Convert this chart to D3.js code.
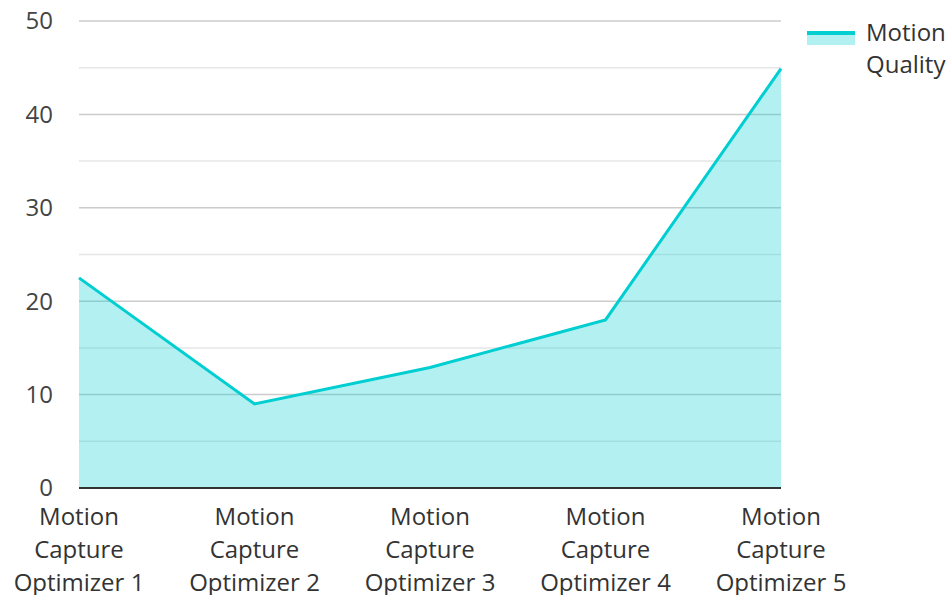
<!DOCTYPE html>
<head>
<meta charset="utf-8">
<style>
body { margin: 0; background: #fff; }
text { font-family: "Open Sans", "Noto Sans", sans-serif; fill: #333; }
</style>
</head>
<body>
<svg width="951" height="595"></svg>
<script src="https://d3js.org/d3.v7.min.js"></script>
<script>

var categories = ["Motion Capture Optimizer 1", "Motion Capture Optimizer 2", "Motion Capture Optimizer 3",
                  "Motion Capture Optimizer 4", "Motion Capture Optimizer 5"];
var quality = [22.5, 9, 12.9, 18, 44.9];
var yTicks = [0, 10, 20, 30, 40, 50];
var minorTicks = [5, 15, 25, 35, 45];
var seriesName = ["Motion", "Quality"];

var svg = d3.select("svg"),
    pLeft = 79, pRight = 781, pTop = 21, pBottom = 488;

var x = d3.scalePoint().domain(categories).range([pLeft, pRight]);
var y = d3.scaleLinear().domain([0, 50]).range([pBottom, pTop]);

// grid
svg.append("g").selectAll("line")
  .data(minorTicks)
  .enter().append("line")
    .attr("x1", pLeft).attr("x2", pRight)
    .attr("y1", function(d) { return y(d); }).attr("y2", function(d) { return y(d); })
    .attr("stroke", "#e6e6e6").attr("stroke-width", 1.5);

svg.append("g").selectAll("line")
  .data(yTicks.filter(function(d) { return d > 0; }))
  .enter().append("line")
    .attr("x1", pLeft).attr("x2", pRight)
    .attr("y1", function(d) { return y(d); }).attr("y2", function(d) { return y(d); })
    .attr("stroke", "#cccccc").attr("stroke-width", 1.5);

// area + line
var area = d3.area()
    .x(function(d, i) { return x(categories[i]); })
    .y0(y(0))
    .y1(function(d) { return y(d); });

var line = d3.line()
    .x(function(d, i) { return x(categories[i]); })
    .y(function(d) { return y(d); });

svg.append("path")
    .datum(quality)
    .attr("d", area)
    .attr("fill", "rgb(0,206,209)")
    .attr("fill-opacity", 0.3);

svg.append("path")
    .datum(quality)
    .attr("d", line)
    .attr("fill", "none")
    .attr("stroke", "rgb(0,206,209)")
    .attr("stroke-width", 3)
    .attr("stroke-linejoin", "miter");

// baseline
svg.append("line")
    .attr("x1", pLeft).attr("x2", pRight)
    .attr("y1", y(0)).attr("y2", y(0))
    .attr("stroke", "#333").attr("stroke-width", 2);

// y labels
svg.append("g").selectAll("text")
  .data(yTicks)
  .enter().append("text")
    .attr("x", 53)
    .attr("y", function(d) { return y(d); })
    .attr("dy", "0.35em")
    .attr("text-anchor", "end")
    .style("font-size", "24px")
    .style("fill", "#444")
    .text(function(d) { return d; });

// x labels
var xl = svg.append("g").selectAll("text")
  .data(categories)
  .enter().append("text")
    .attr("text-anchor", "middle")
    .style("font-size", "24px");

xl.each(function(d) {
  var words = ["Motion", "Capture", d.replace("Motion Capture ", "")];
  var t = d3.select(this);
  words.forEach(function(w, i) {
    t.append("tspan")
      .attr("x", x(d))
      .attr("y", 525 + i * 33)
      .text(w);
  });
});

// legend
svg.append("rect")
    .attr("x", 807).attr("y", 33).attr("width", 48).attr("height", 12)
    .attr("fill", "rgb(0,206,209)").attr("fill-opacity", 0.3);
svg.append("line")
    .attr("x1", 807).attr("x2", 855).attr("y1", 33).attr("y2", 33)
    .attr("stroke", "rgb(0,206,209)").attr("stroke-width", 4);

svg.append("g").selectAll("text")
  .data(seriesName)
  .enter().append("text")
    .attr("x", 866)
    .attr("y", function(d, i) { return 41 + i * 32; })
    .style("font-size", "24px")
    .text(function(d) { return d; });

</script>
</body>
